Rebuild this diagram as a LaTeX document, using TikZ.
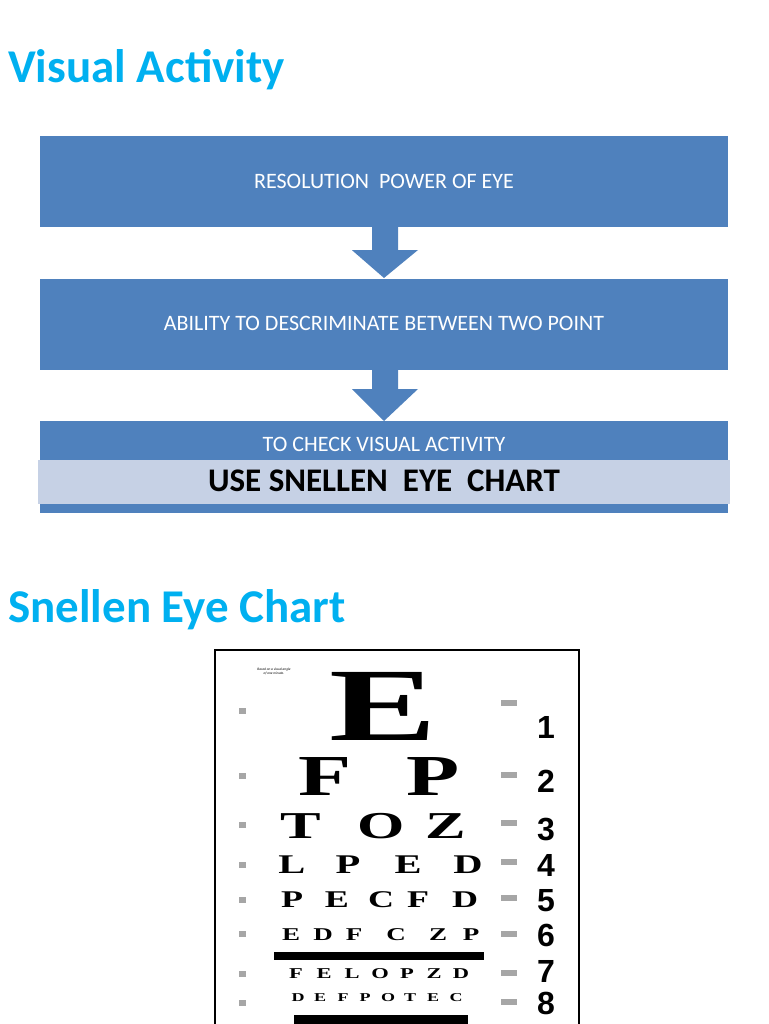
\documentclass[tikz,border=0pt]{standalone}
\usepackage{fontspec}
\setmainfont{Carlito}
\newfontfamily\chartfont{Liberation Serif}
\newfontfamily\numfont{Liberation Sans}
\definecolor{titleblue}{HTML}{00B0F0}
\definecolor{boxblue}{HTML}{4F81BD}
\definecolor{bandblue}{HTML}{C6D1E5}
\begin{document}
\begin{tikzpicture}[x=1pt,y=-1pt,
  title/.style={anchor=west,text=titleblue,font=\fontsize{47}{50}\selectfont\bfseries,inner sep=0},
  bluebox/.style={fill=boxblue,draw=none,minimum width=688pt,inner sep=0},
  boxtxt/.style={text=white,font=\fontsize{22}{24}\selectfont,inner sep=0},
  downarrow/.style={fill=boxblue,draw=none},
  ltr/.style={font=\chartfont\bfseries,inner sep=0},
  num/.style={font=\numfont\bfseries\fontsize{32}{32}\selectfont,inner sep=0},
  tickmark/.style={fill=gray!70,draw=none}]
\useasboundingbox (0,0) rectangle (768,1024);
\node[title] (t1) at (8,70) {Visual Activity};
\node[bluebox,minimum height=91pt] (b1) at (384,181.5) {};
\node[boxtxt] (b1t) at (384,181) {RESOLUTION\ \ POWER OF EYE};
\node[bluebox,minimum height=91pt] (b2) at (384,324.5) {};
\node[boxtxt] (b2t) at (384,323) {ABILITY TO DESCRIMINATE BETWEEN TWO POINT};
\node[bluebox,minimum height=92pt] (b3) at (384,467) {};
\node[boxtxt] (b3t) at (384,444) {TO CHECK VISUAL ACTIVITY};
\node[fill=bandblue,minimum width=692pt,minimum height=44pt,inner sep=0] (band) at (384,482) {};
\node[font=\fontsize{33}{35}\selectfont\bfseries,inner sep=0] (bandt) at (384,481) {USE SNELLEN\ \ EYE\ \ CHART};
\fill[downarrow] (b1.south)++(-12,0) -- ++(0,23) -- ++(-20,0) -- (384,278) -- ++(34,-28) -- ++(-20,0) -- ++(0,-23) -- cycle;
\fill[downarrow] (b2.south)++(-12,0) -- ++(0,19) -- ++(-20,0) -- (384,421) -- ++(34,-32) -- ++(-20,0) -- ++(0,-19) -- cycle;
\node[title] (t2) at (8,610) {Snellen Eye Chart};
% chart
\node[draw=black,line width=2pt,fill=white,minimum width=364pt,minimum height=390pt,inner sep=0] (chart) at (397,845) {};
\node[font=\fontsize{3.5}{4}\selectfont\itshape,align=center,inner sep=0] (note) at (274,671) {Based on a visual angle\\of one minute.};
\node[ltr,font=\chartfont\bfseries\fontsize{104}{104}\selectfont] (r1) at (383,706) {\scalebox{1.55}[1]{E}};
\foreach \x/\l in {325/F,433/P}{\node[ltr,font=\chartfont\bfseries\fontsize{58}{58}\selectfont] at (\x,777) {\scalebox{1.5}[1]{\l}};}
\foreach \x/\l in {301/T,381/O,446/Z}{\node[ltr,font=\chartfont\bfseries\fontsize{38}{38}\selectfont] at (\x,826) {\scalebox{1.6}[1]{\l}};}
\foreach \x/\l in {292/L,348/P,408/E,468/D}{\node[ltr,font=\chartfont\bfseries\fontsize{27}{27}\selectfont] at (\x,865) {\scalebox{1.5}[1]{\l}};}
\foreach \x/\l in {292/P,337/E,381/C,418/F,465/D}{\node[ltr,font=\chartfont\bfseries\fontsize{24}{24}\selectfont] at (\x,900) {\scalebox{1.5}[1]{\l}};}
\foreach \x/\l in {291/E,323/D,354/F,396/C,438/Z,471/P}{\node[ltr,font=\chartfont\bfseries\fontsize{18}{18}\selectfont] at (\x,935) {\scalebox{1.5}[1]{\l}};}
\fill (274,952) rectangle (484,960);
\foreach \x/\l in {296/F,324/E,352/L,380/O,407/P,434/Z,461/D}{\node[ltr,font=\chartfont\bfseries\fontsize{15}{15}\selectfont] at (\x,974) {\scalebox{1.5}[1]{\l}};}
\foreach \x/\l in {298/D,320/E,343/F,365/P,388/O,410/T,433/E,456/C}{\node[ltr,font=\chartfont\bfseries\fontsize{12}{12}\selectfont] at (\x,998) {\scalebox{1.5}[1]{\l}};}
\fill (294,1015) rectangle (468,1024);
\foreach \y/\n in {727/1,781/2,829/3,865/4,901/5,935/6,971/7,1003/8}{\node[num] at (546,\y) {\n};}
\foreach \y in {711,776,825,865,900,934,974,1003}{\fill[tickmark] (239,\y-3) rectangle (246,\y+3);}
\foreach \y in {703,775,823,862,898,934,973,1002}{\fill[tickmark] (501,\y-3) rectangle (517,\y+3);}
\end{tikzpicture}
\end{document}
